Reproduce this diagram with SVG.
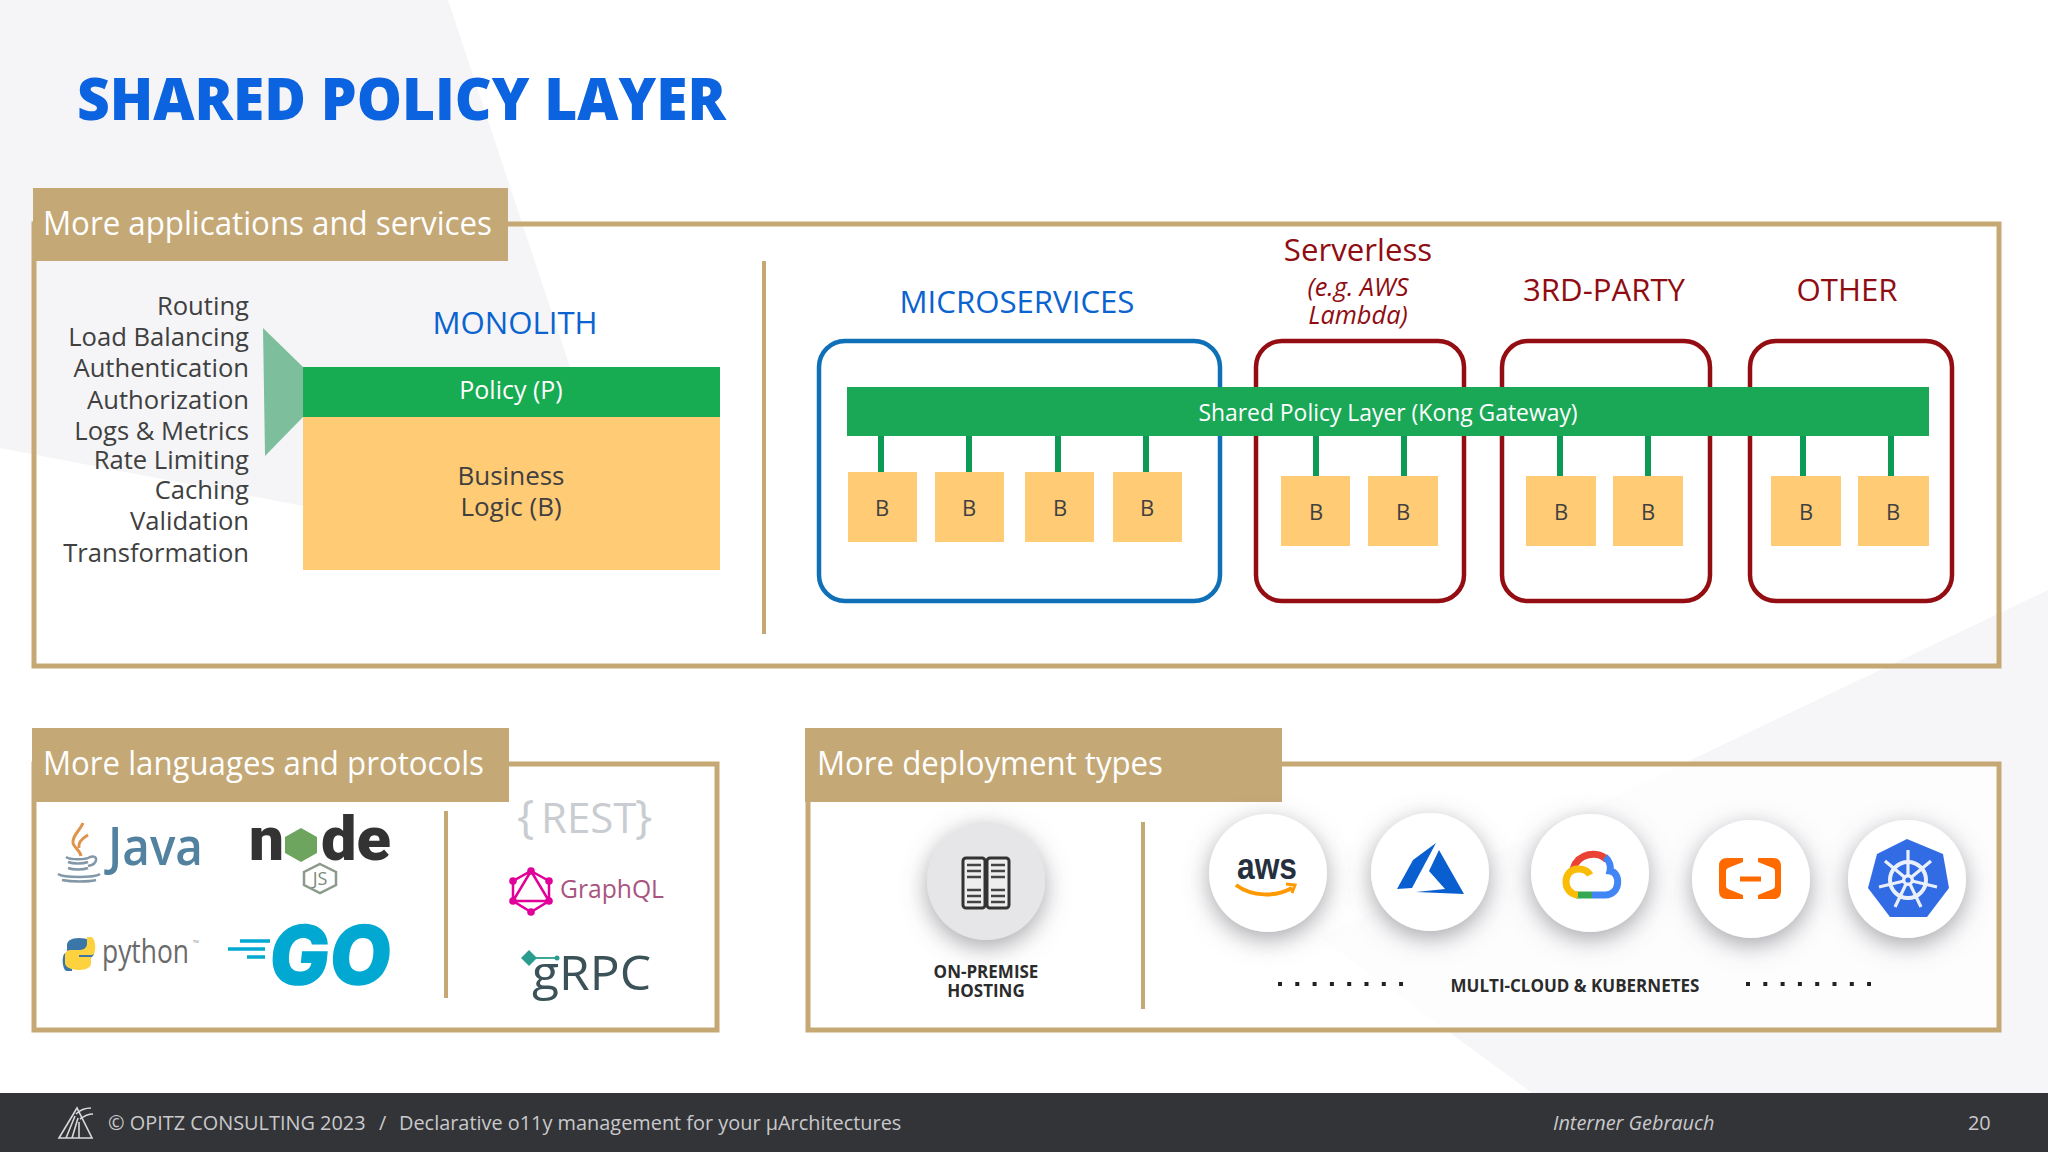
<svg xmlns="http://www.w3.org/2000/svg" width="2048" height="1152" viewBox="0 0 2048 1152">
<defs>
<filter id="sh" x="-50%" y="-50%" width="200%" height="200%"><feDropShadow dx="0" dy="7" stdDeviation="12" flood-color="#6c6c74" flood-opacity="0.6"/></filter>
</defs>
<style>
text{font-family:"Open Sans","Noto Sans","DejaVu Sans",sans-serif}
.frame{fill:none;stroke:#c6a875;stroke-width:5}
.hdr{fill:#c4a876}
.hdrt{fill:#fff;font-size:32.5px}
.div{stroke:#c6a875;stroke-width:4;fill:none}
.list{fill:#404040;font-size:25.6px;text-anchor:end}
.blue{fill:#0a63cf;font-size:31.2px;text-anchor:middle}
.red{fill:#8f0d12;font-size:31.2px;text-anchor:middle}
.it{fill:#8f0d12;font-size:25.4px;font-style:italic;text-anchor:middle}
.bb{fill:#ffcb75}
.bt{fill:#404040;font-size:22px;text-anchor:middle}
.bx{fill:none;stroke-width:4.5}
.stem{stroke:#0d9a55;stroke-width:6;fill:none}
.wt{fill:#fff;text-anchor:middle}
.cir{fill:#fff;filter:url(#sh)}
.cap{fill:#2b2b2b;font-size:17px;font-weight:700;text-anchor:middle}
.dots{stroke:#222;stroke-width:4;stroke-dasharray:4 13.3;fill:none}
.foot{fill:#c9c9cb;font-size:19.9px}
.hv{font-family:"Roboto",sans-serif}
</style>
<rect width="2048" height="1152" fill="#fff"/>
<g id="background">
<polygon points="0,0 448,0 637,569 303,506 0,448" fill="#f5f5f7"/>
<polygon points="2048,590 1319,937 1532,1093 2048,1093" fill="#f6f6f8"/>
</g>
<text x="77" y="120" fill="#0b63e0" font-size="58.5" font-weight="800" textLength="649" lengthAdjust="spacingAndGlyphs">SHARED POLICY LAYER</text>

<g id="apps-frame">
<rect x="34" y="224" width="1965" height="442" class="frame"/>
<rect x="33" y="188" width="475" height="73" class="hdr"/>
<text x="43" y="235" class="hdrt" textLength="449" lengthAdjust="spacingAndGlyphs">More applications and services</text>
<line x1="764" y1="261" x2="764" y2="634" class="div"/>
</g>
<g id="policy-list">
<text x="249" y="315" class="list">Routing</text>
<text x="249" y="346" class="list">Load Balancing</text>
<text x="249" y="377" class="list">Authentication</text>
<text x="249" y="409" class="list">Authorization</text>
<text x="249" y="440" class="list">Logs &amp; Metrics</text>
<text x="249" y="469" class="list">Rate Limiting</text>
<text x="249" y="499" class="list">Caching</text>
<text x="249" y="530" class="list">Validation</text>
<text x="249" y="562" class="list">Transformation</text>
</g>
<g id="monolith">
<polygon points="263,328 303,367 303,417 265,456" fill="#7dbf9c"/>
<text x="515" y="334" class="blue">MONOLITH</text>
<rect x="303" y="367" width="417" height="50" fill="#17ab52"/>
<text x="511" y="399" class="wt" font-size="25">Policy (P)</text>
<rect x="303" y="417" width="417" height="153" class="bb"/>
<text x="511" y="485" class="bt" style="font-size:26px">Business</text>
<text x="511" y="516" class="bt" style="font-size:26px">Logic (B)</text>
</g>
<g id="labels">
<text x="1017" y="313" class="blue">MICROSERVICES</text>
<text x="1358" y="261" class="red">Serverless</text>
<text x="1358" y="296" class="it">(e.g. AWS</text>
<text x="1358" y="324" class="it">Lambda)</text>
<text x="1604" y="301" class="red">3RD-PARTY</text>
<text x="1847" y="301" class="red">OTHER</text>
</g>
<g id="group-boxes">
<rect x="819" y="341" width="401" height="260" rx="26" class="bx" stroke="#0f70b7"/>
<rect x="1256" y="341" width="208" height="260" rx="26" class="bx" stroke="#930d12"/>
<rect x="1502" y="341" width="208" height="260" rx="26" class="bx" stroke="#930d12"/>
<rect x="1750" y="341" width="202" height="260" rx="26" class="bx" stroke="#930d12"/>
</g>
<g id="connectors">
<path class="stem" d="M881 436V472M969 436V472M1058 436V472M1146 436V472M1316 436V476M1404 436V476M1560 436V476M1648 436V476M1803 436V476M1891 436V476"/>
</g>
<g id="shared-policy-layer">
<rect x="847" y="387" width="1082" height="49" fill="#1aa856"/>
<text x="1388" y="421" class="wt" font-size="22.9">Shared Policy Layer (Kong Gateway)</text>
</g>
<g id="b-micro-1"><rect x="848" y="472" width="69" height="70" class="bb"/><text x="882" y="516" class="bt">B</text></g>
<g id="b-micro-2"><rect x="935" y="472" width="69" height="70" class="bb"/><text x="969" y="516" class="bt">B</text></g>
<g id="b-micro-3"><rect x="1025" y="472" width="69" height="70" class="bb"/><text x="1060" y="516" class="bt">B</text></g>
<g id="b-micro-4"><rect x="1113" y="472" width="69" height="70" class="bb"/><text x="1147" y="516" class="bt">B</text></g>
<g id="b-sl-1"><rect x="1281" y="476" width="69" height="70" class="bb"/><text x="1316" y="520" class="bt">B</text></g>
<g id="b-sl-2"><rect x="1368" y="476" width="70" height="70" class="bb"/><text x="1403" y="520" class="bt">B</text></g>
<g id="b-3p-1"><rect x="1526" y="476" width="70" height="70" class="bb"/><text x="1561" y="520" class="bt">B</text></g>
<g id="b-3p-2"><rect x="1613" y="476" width="70" height="70" class="bb"/><text x="1648" y="520" class="bt">B</text></g>
<g id="b-o-1"><rect x="1771" y="476" width="70" height="70" class="bb"/><text x="1806" y="520" class="bt">B</text></g>
<g id="b-o-2"><rect x="1858" y="476" width="71" height="70" class="bb"/><text x="1893" y="520" class="bt">B</text></g>

<g id="languages-frame">
<rect x="34" y="764" width="683" height="266" class="frame"/>
<rect x="32" y="728" width="477" height="74" class="hdr"/>
<text x="43" y="775" class="hdrt" textLength="441" lengthAdjust="spacingAndGlyphs">More languages and protocols</text>
<line x1="446" y1="811" x2="446" y2="998" class="div"/>
</g>
<g id="java">
<path d="M83 823c-3 8-11 12-10 20 1 5 7 7 8 13M88 835c-7 4-10 8-9 13" fill="none" stroke="#e0934a" stroke-width="3"/>
<path d="M66 857c4 3 20 3 24 0c8-3 9 7-2 9M68 862c5 2 15 2 20 0M68 868c5 2 15 2 20 0M58 874c6 4 36 4 42 0M62 880c10 2 26 2 34 0" fill="none" stroke="#8298a8" stroke-width="2.5"/>
<text x="108" y="865" fill="#5382a1" font-size="52" font-weight="600" textLength="95" lengthAdjust="spacingAndGlyphs">Java</text>
</g>
<g id="nodejs">
<text x="249" y="860" fill="#333" font-size="62" font-weight="900" class="hv">n</text>
<polygon points="301,828 317,837 317,853 301,862 285,853 285,837" fill="#6da55f"/>
<text x="321" y="860" fill="#333" font-size="62" font-weight="900" class="hv" textLength="70" lengthAdjust="spacingAndGlyphs">de</text>
<polygon points="320,864 336,872 336,885 320,893 304,885 304,872" fill="#fff" stroke="#8b9a8b" stroke-width="2.5"/>
<text x="320" y="885" fill="#7a8a7a" font-size="18" text-anchor="middle">JS</text>
</g>
<g id="python">
<path d="M79 938c-8 0-12 3-12 7v6h12v2H66c-5 0-4 18 1 18h5v-7c0-3 3-6 7-6h10c3 0 5-3 5-5v-8c0-4-7-7-15-7z" fill="#3b76a8"/>
<path d="M79 970c8 0 12-3 12-7v-6H79v-2h13c5 0 4-18-1-18h-4v7c0 3-3 6-7 6H70c-3 0-5 3-5 5v8c0 4 6 7 14 7z" fill="#fdd23e"/>
<text x="102" y="963" fill="#6a6a6a" font-size="33" textLength="87" lengthAdjust="spacingAndGlyphs">python</text>
<text x="193" y="946" fill="#999" font-size="8">™</text>
</g>
<g id="go">
<path d="M240 941h30M228 949h37M247 957h18" stroke="#00a8d2" stroke-width="3.5" fill="none"/>
<text transform="translate(267 985) skewX(-6)" fill="#00a8d2" font-size="83" font-weight="900" style="font-family:'Inter',sans-serif" textLength="122" lengthAdjust="spacingAndGlyphs">GO</text>
</g>
<g id="rest">
<text y="833" fill="#c9cdd1" font-size="42"><tspan x="517" font-size="46">{</tspan><tspan x="541">REST</tspan><tspan x="635" font-size="46">}</tspan></text>
</g>
<g id="graphql">
<path d="M531 871l18 10v20l-18 11-18-11v-20zM531 871l18 30h-36z" fill="none" stroke="#e10098" stroke-width="2.5"/>
<g fill="#e10098"><circle cx="531" cy="871" r="3.8"/><circle cx="549" cy="881" r="3.8"/><circle cx="549" cy="901" r="3.8"/><circle cx="531" cy="912" r="3.8"/><circle cx="513" cy="901" r="3.8"/><circle cx="513" cy="881" r="3.8"/></g>
<text x="560" y="898" fill="#a8557f" font-size="26" textLength="104" lengthAdjust="spacingAndGlyphs">GraphQL</text>
</g>
<g id="grpc">
<path d="M529 950l8 8-8 8-8-8z" fill="#2a9d8f"/>
<path d="M533 958h23" stroke="#2a9d8f" stroke-width="1.8"/>
<circle cx="557" cy="958" r="2.5" fill="#2a9d8f"/>
<text x="532" y="990" fill="#3a5258" font-size="47" textLength="119" lengthAdjust="spacingAndGlyphs">gRPC</text>
</g>

<g id="deployment-frame">
<rect x="808" y="764" width="1191" height="266" class="frame" style="fill:#fff;fill-opacity:.78"/>
<rect x="805" y="728" width="477" height="74" class="hdr"/>
<text x="817" y="775" class="hdrt" textLength="346" lengthAdjust="spacingAndGlyphs">More deployment types</text>
<line x1="1143" y1="822" x2="1143" y2="1009" class="div"/>
</g>
<g id="on-premise">
<circle cx="986" cy="881" r="59" fill="#e6e6e8" filter="url(#sh)"/>
<rect x="963" y="858" width="22" height="50" rx="3" fill="#eee" stroke="#333" stroke-width="3"/>
<rect x="987" y="858" width="22" height="50" rx="3" fill="#eee" stroke="#333" stroke-width="3"/>
<path d="M967 865h14M967 871h14M967 877h14M967 890h14M967 896h14M967 902h14M991 865h14M991 871h14M991 877h14M991 890h14M991 896h14M991 902h14" stroke="#444" stroke-width="2.5"/>
<text x="986" y="978" class="cap">ON-PREMISE</text>
<text x="986" y="997" class="cap">HOSTING</text>
</g>
<g id="aws">
<circle cx="1268" cy="873" r="59" class="cir"/>
<text x="1267" y="879" fill="#252f3e" font-size="36" font-weight="700" text-anchor="middle" style="font-family:'Liberation Sans',sans-serif" textLength="60" lengthAdjust="spacingAndGlyphs">aws</text>
<path d="M1236 885c16 12 40 12 56 3" fill="none" stroke="#f90" stroke-width="4"/>
<path d="M1286 884l9 1-3 8" fill="none" stroke="#f90" stroke-width="3"/>
</g>
<g id="azure">
<circle cx="1430" cy="872" r="59" class="cir"/>
<polygon points="1436,843 1413,860 1397,889 1412,888" fill="#0a5fd0"/>
<polygon points="1439,850 1429,871 1445,889 1416,892 1464,894" fill="#0a5fd0"/>
</g>
<g id="gcp">
<circle cx="1590" cy="873" r="59" class="cir"/>
<g fill="none" stroke-width="7">
<path d="M1573 869C1578 853 1598 850 1607 860" stroke="#ea4335"/>
<path d="M1605 857C1610 861 1611 867 1610 871C1621 872 1621 895 1605 895H1592" stroke="#4285f4"/>
<path d="M1592 895H1576" stroke="#34a853"/>
<path d="M1578 895C1562 894 1562 869 1578 869C1584 869 1588 871 1590 875" stroke="#fbbc05"/>
</g>
</g>
<g id="alibaba">
<circle cx="1751" cy="879" r="59" class="cir"/>
<g fill="#ff6a00">
<path d="M1743 858H1727Q1719 858 1719 866V891Q1719 899 1727 899H1743V895L1728 889Q1726 888 1726 886V871Q1726 869 1728 868L1743 862Z"/>
<path d="M1758 858H1773Q1781 858 1781 866V891Q1781 899 1773 899H1758V895L1773 889Q1775 888 1775 886V871Q1775 869 1773 868L1758 862Z"/>
<rect x="1740" y="876.5" width="21" height="5"/>
</g>
</g>
<g id="kubernetes">
<circle cx="1907" cy="879" r="59" class="cir"/>
<polygon points="1907,839 1943,854 1949,888 1927,917 1890,917 1868,888 1877,854" fill="#326ce5"/>
<circle cx="1908" cy="880" r="18" fill="none" stroke="#e9f0fc" stroke-width="4"/>
<path d="M1908 880L1908 850M1908 880L1931 861M1908 880L1937 887M1908 880L1921 907M1908 880L1895 907M1908 880L1879 887M1908 880L1885 861" stroke="#e9f0fc" stroke-width="3.2"/>
<circle cx="1908" cy="880" r="6" fill="#e9f0fc"/>
<circle cx="1908" cy="880" r="2.6" fill="#326ce5"/>
</g>
<g id="multi-cloud">
<line x1="1278" y1="984" x2="1403" y2="984" class="dots"/>
<line x1="1746" y1="984" x2="1871" y2="984" class="dots"/>
<text x="1575" y="992" class="cap">MULTI-CLOUD &amp; KUBERNETES</text>
</g>

<g id="footer">
<rect x="0" y="1093" width="2048" height="59" fill="#333438"/>
<path d="M59 1138l18-30 15 30zM66 1138l9-22M72 1138l6-20M79 1138l0-16M76 1114c4-4 9-6 15-6M80 1119c4-3 8-5 13-5" fill="none" stroke="#d8d8d8" stroke-width="1.6"/>
<text y="1130" class="foot"><tspan x="108">© OPITZ CONSULTING 2023</tspan><tspan x="379">/</tspan><tspan x="399">Declarative o11y management for your µArchitectures</tspan></text>
<text x="1553" y="1130" class="foot" font-style="italic">Interner Gebrauch</text>
<text x="1968" y="1130" class="foot">20</text>
</g>
</svg>
